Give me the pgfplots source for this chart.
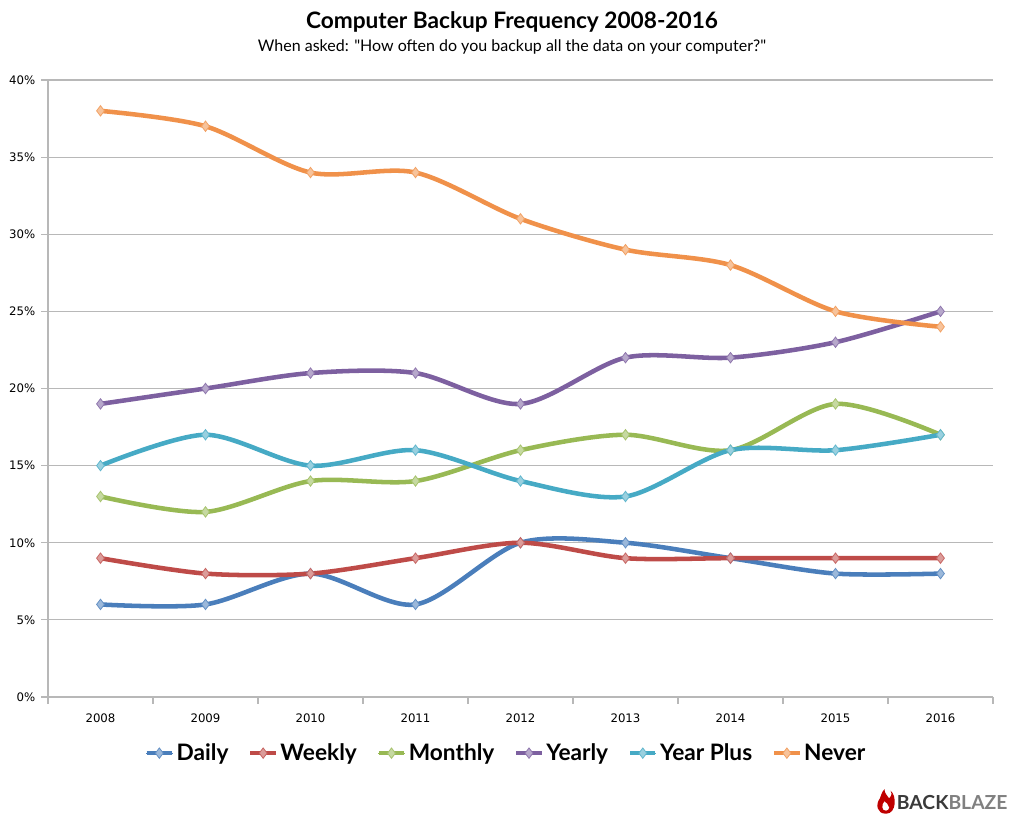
\documentclass[border=0pt]{standalone}
\usepackage{fontspec}
\setmainfont{Lato}
\newfontfamily\subfont{Lato}
\newfontfamily\tickfont{DejaVu Sans}
\usepackage{pgfplots}
\pgfplotsset{compat=1.18}

\definecolor{cDaily}{HTML}{4A7EBB}
\definecolor{cWeekly}{HTML}{BE4B48}
\definecolor{cMonthly}{HTML}{98B954}
\definecolor{cYearly}{HTML}{7D60A0}
\definecolor{cYearPlus}{HTML}{46AAC5}
\definecolor{cNever}{HTML}{F0914A}
\definecolor{gridgray}{HTML}{B8B8B8}

\pgfplotsset{
  series/.style={
    color=#1, line width=3.4pt, smooth, tension=0.5,
    mark=diamond*, mark size=3.9pt,
    mark options={solid, line width=0.6pt, draw=#1!85!white, fill=#1!55!white}
  }
}

\begin{document}
\begin{tikzpicture}
\begin{axis}[
  scale only axis,
  width=708.75pt, height=462.75pt,
  xmin=-0.5, xmax=8.5,
  ymin=0, ymax=40,
  xtick={0,...,8},
  xticklabels={2008,2009,2010,2011,2012,2013,2014,2015,2016},
  minor xtick={-0.5,0.5,...,8.5},
  major x tick style={draw=none},
  minor x tick style={draw=gridgray, line width=0.8pt},
  minor tick length=5pt,
  ytick={0,5,...,40},
  yticklabel={\pgfmathprintnumber{\tick}\%},
  major y tick style={draw=gridgray, line width=0.8pt},
  major tick length=5pt,
  tick align=outside,
  ymajorgrids,
  grid style={gridgray, line width=0.8pt},
  axis x line*=bottom, axis y line*=left,
  axis line style={gridgray, line width=0.8pt, -},
  tick label style={font=\tickfont\fontsize{8.8}{10}\selectfont, text=black},
  /pgf/number format/assume math mode=true,
  xticklabel style={yshift=-4pt},
  yticklabel style={xshift=-1pt},
  clip=false,
  legend columns=6,
  legend style={
    at={(0.485,-0.091)}, anchor=center, draw=none, fill=none,
    font=\bfseries\fontsize{17}{20}\selectfont,
    /tikz/every even column/.append style={column sep=13pt},
    inner sep=0pt
  },
  legend image code/.code={
    \draw[line width=3pt] (0pt,0pt) -- (19pt,0pt);
    \draw[mark repeat=2, mark phase=2, line width=0pt] plot coordinates {(0pt,0pt)(9.5pt,0pt)(19pt,0pt)};
  },
  legend cell align=left,
]
% Daily
\addplot[series=cDaily] coordinates {(0,6)(1,6)(2,8)(3,6)(4,10)(5,10)(6,9)(7,8)(8,8)};
\addlegendentry{Daily}
% Weekly
\addplot[series=cWeekly] coordinates {(0,9)(1,8)(2,8)(3,9)(4,10)(5,9)(6,9)(7,9)(8,9)};
\addlegendentry{Weekly}
% Monthly
\addplot[series=cMonthly] coordinates {(0,13)(1,12)(2,14)(3,14)(4,16)(5,17)(6,16)(7,19)(8,17)};
\addlegendentry{Monthly}
% Yearly
\addplot[series=cYearly] coordinates {(0,19)(1,20)(2,21)(3,21)(4,19)(5,22)(6,22)(7,23)(8,25)};
\addlegendentry{Yearly}
% Year Plus
\addplot[series=cYearPlus] coordinates {(0,15)(1,17)(2,15)(3,16)(4,14)(5,13)(6,16)(7,16)(8,17)};
\addlegendentry{Year Plus}
% Never
\addplot[series=cNever] coordinates {(0,38)(1,37)(2,34)(3,34)(4,31)(5,29)(6,28)(7,25)(8,24)};
\addlegendentry{Never}
\end{axis}

% titles
\node[font=\bfseries\fontsize{17}{20}\selectfont, anchor=center] at (348pt,506.25pt) {Computer Backup Frequency 2008-2016};
\node[font=\subfont\fontsize{12}{14}\selectfont, anchor=center] at (348pt,487.5pt) {When asked: "How often do you backup all the data on your computer?"};

% logo
\begin{scope}[shift={(628.5pt,-79.5pt)}, scale=1.15]
  \fill[red!75!black] (0,-7pt) .. controls (-6pt,-7pt) and (-7pt,-1pt) .. (-4pt,3pt)
     .. controls (-3pt,5pt) and (-3pt,7pt) .. (-1pt,9pt)
     .. controls (-1pt,6pt) and (1pt,5pt) .. (2pt,3pt)
     .. controls (4pt,5pt) and (4pt,7pt) .. (3pt,8pt)
     .. controls (7pt,5pt) and (7pt,-7pt) .. (0,-7pt) -- cycle;
  \fill[white] (0,-5pt) .. controls (-3pt,-5pt) and (-3pt,-1pt) .. (-1pt,1pt)
     .. controls (0pt,0pt) and (2pt,-1pt) .. (2pt,-3pt) .. controls (2pt,-4pt) and (1pt,-5pt) .. (0,-5pt) -- cycle;
\end{scope}
\node[anchor=west, font=\bfseries\fontsize{14.5}{16}\selectfont, inner sep=0pt] at (636.5pt,-79.5pt)
  {\textcolor[HTML]{3A3A3A}{BACK}\textcolor[HTML]{808080}{BLAZE}};

\path[use as bounding box] (-36pt,-99.75pt) rectangle (732pt,522.75pt);
\end{tikzpicture}
\end{document}
